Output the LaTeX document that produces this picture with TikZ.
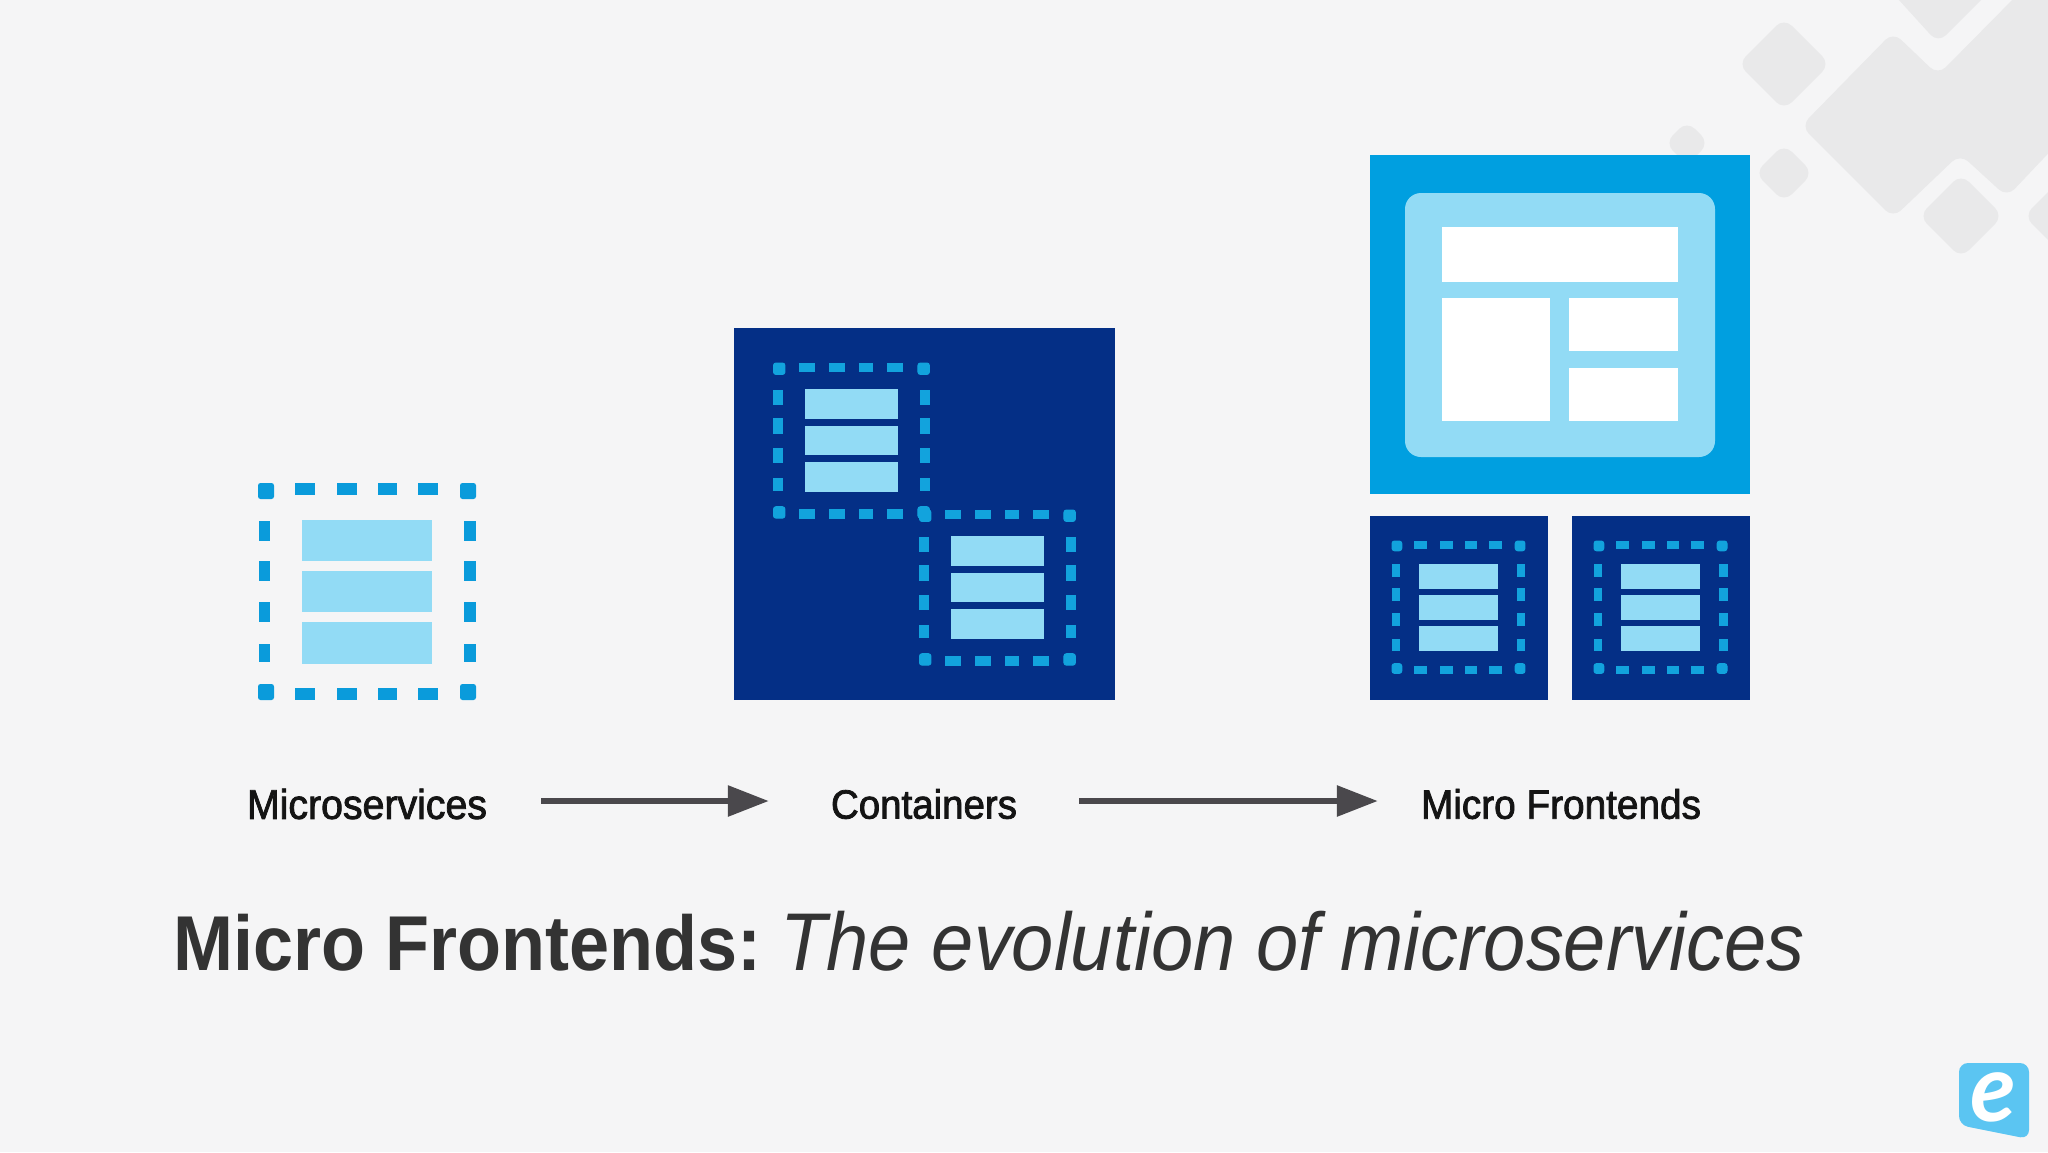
\documentclass[tikz,border=0pt]{standalone}
\usepackage{fontspec}
\usepackage{graphicx}
\setmainfont{Liberation Sans}
\newfontfamily\medfont[FakeBold=2]{Liberation Sans}
\newfontfamily\logofont{Lato}
\definecolor{bgc}{HTML}{F5F5F6}
\definecolor{deco}{HTML}{E9E9EA}
\definecolor{navy}{HTML}{042F86}
\definecolor{sky}{HTML}{009FE0}
\definecolor{dashc}{HTML}{0A9BDB}
\definecolor{dashb}{HTML}{12A3DD}
\definecolor{pale}{HTML}{92DBF5}
\definecolor{arrc}{HTML}{4A484C}
\definecolor{logoc}{HTML}{5BC5F2}
\definecolor{titlec}{HTML}{333333}
\usetikzlibrary{arrows.meta}
\tikzset{
  x=1pt,y=-1pt,
  navybox/.style={fill=navy},
  barbox/.style={fill=pale},
  whitebox/.style={fill=white},
  decoshape/.style={fill=deco,rounded corners=11pt},
  dashsmall/.style={fill=dashb,draw=dashb,line width=1pt},
  steplabel/.style={inner sep=0pt,font=\medfont\fontsize{37}{40}\selectfont,text=black!92},
  flow/.style={draw=arrc,line width=6pt,-{Triangle[length=41pt,width=30pt,fill=arrc]}}
}
\newcommand{\rackbox}[4]{%
\begin{scope}[shift={(#1,#2)},scale=#3]
  \foreach \a/\b in {37/57,79/99,120/139,160/180}{
    \fill[#4] (\a,0) rectangle (\b,12);
    \fill[#4] (\a,205) rectangle (\b,217);
  }
  \foreach \a/\b in {38/58,78/98,119/139,161/179}{
    \fill[#4] (0.5,\a) rectangle (12,\b);
    \fill[#4] (206,\a) rectangle (218,\b);
  }
  \fill[#4,rounded corners=2.5pt] (0,0) rectangle (16,16);
  \fill[#4,rounded corners=2.5pt] (202,0) rectangle (218,16);
  \fill[#4,rounded corners=2.5pt] (0,201) rectangle (16,217);
  \fill[#4,rounded corners=2.5pt] (202,201) rectangle (218,217);
  \fill[barbox] (44,37) rectangle (174,78);
  \fill[barbox] (44,88) rectangle (174,129);
  \fill[barbox] (44,139) rectangle (174,181);
\end{scope}}
\newcommand{\diam}[3]{\fill[decoshape] (#1-#3,#2) -- (#1,#2-#3) -- (#1+#3,#2) -- (#1,#2+#3) -- cycle;}
\begin{document}
\begin{tikzpicture}
\useasboundingbox (0,0) rectangle (2048,1152);
\fill[bgc] (0,0) rectangle (2048,1152);
% background decoration
\begin{scope}
\clip (0,0) rectangle (2048,1152);
\diam{1784}{64}{46}
\diam{1687}{143}{22}
\diam{1784}{173}{29}
\diam{1961}{216}{42}
\diam{2066}{216}{42}
\fill[decoshape] (1801,126) -- (1893,32) -- (1938,75) -- (2020,-8) -- (2060,-8) -- (2060,141) -- (2007,197) -- (1960,154) -- (1893,218) -- cycle;
\fill[decoshape] (1888,-12) -- (1938,43) -- (1993,-12) -- cycle;
\end{scope}
% microservices
\rackbox{258}{483}{1}{fill=dashc}
% containers
\fill[navybox] (734,328) rectangle (1115,700);
\rackbox{773.5}{363}{0.715}{dashsmall}
\rackbox{919.5}{510}{0.715}{dashsmall}
% micro frontends
\fill[sky] (1370,155) rectangle (1750,494);
\fill[pale,rounded corners=16pt] (1405,193) rectangle (1715,457);
\fill[whitebox] (1442,227) rectangle (1678,282);
\fill[whitebox] (1442,298) rectangle (1550,421);
\fill[whitebox] (1569,298) rectangle (1678,351);
\fill[whitebox] (1569,368) rectangle (1678,421);
\fill[navybox] (1370,516) rectangle (1548,700);
\fill[navybox] (1572,516) rectangle (1750,700);
\rackbox{1392}{541}{0.61}{dashsmall}
\rackbox{1594}{541}{0.61}{dashsmall}
% labels and arrows
\node[steplabel,minimum width=348pt] (lab1) at (367,804) {\scalebox{1}[1.06]{\resizebox{240pt}{!}{Microservices}}};
\node[steplabel,minimum width=310pt] (lab2) at (924,804) {\scalebox{1}[1.06]{\resizebox{186pt}{!}{Containers}}};
\node[steplabel,minimum width=366pt] (lab3) at (1561,804) {\scalebox{1}[1.06]{\resizebox{280pt}{!}{Micro Frontends}}};
\draw[flow] ([yshift=3pt]lab1.east) -- ([yshift=3pt]lab2.west);
\draw[flow] ([yshift=3pt]lab2.east) -- ([yshift=3pt]lab3.west);
% title
\node[anchor=base west,inner sep=0pt,text=titlec] (title) at (173,970) {\scalebox{1}[1.08]{\resizebox{588pt}{!}{\fontsize{72}{80}\selectfont\bfseries Micro Frontends:}}\kern 19pt\scalebox{1}[1.08]{\resizebox{1024pt}{!}{\fontsize{72}{80}\selectfont\itshape The evolution of microservices}}};
% logo
\fill[logoc,rounded corners=9pt] (1959,1063) -- (2029,1063) -- (2029,1139) -- (1959,1125) -- cycle;
\node[inner sep=0pt,text=white,font=\logofont\itshape\bfseries\fontsize{94}{94}\selectfont] (logo) at (1993,1097) {e};
\end{tikzpicture}
\end{document}
